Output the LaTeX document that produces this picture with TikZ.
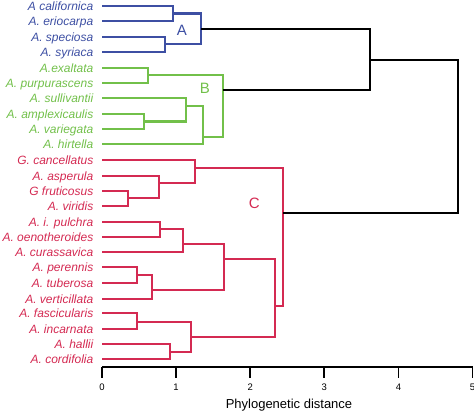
\documentclass[tikz,border=0pt]{standalone}
\usepackage{fontspec}
\setmainfont{Liberation Sans}
\usetikzlibrary{positioning}
\definecolor{cladeA}{HTML}{3D4FA3}
\definecolor{cladeB}{HTML}{72C04A}
\definecolor{cladeC}{HTML}{D42A52}

\begin{document}
\begin{tikzpicture}[x=1pt, y=-1pt,
  taxon/.style={anchor=east, inner sep=0pt, text height=8.6pt, text depth=0pt, font=\fontsize{12}{14}\selectfont\itshape},
  branch/.style={line width=2.1pt},
  cladelabel/.style={inner sep=0pt, font=\fontsize{15}{18}\selectfont},
  ticklabel/.style={inner sep=0pt, font=\fontsize{9.5}{11}\selectfont}
]
\useasboundingbox (0,0) rectangle (474,413);

% leaves
\foreach \n/\y/\t in {1/6/A californica, 2/21/A. eriocarpa, 3/36.7/A. speciosa, 4/51.7/A. syriaca} {
  \coordinate (l\n) at (102,\y);
  \node[taxon, text=cladeA, left=8.5pt of l\n] (t\n) {\t};
}
\foreach \n/\y/\t in {5/67.7/A.exaltata, 6/82.7/A. purpurascens, 7/98.3/A. sullivantii,
    8/114/A. amplexicaulis, 9/129/A. variegata, 10/144/A. hirtella} {
  \coordinate (l\n) at (102,\y);
  \node[taxon, text=cladeB, left=8.5pt of l\n] (t\n) {\t};
}
\foreach \n/\y/\t in {11/160/G. cancellatus, 12/175.7/A. asperula, 13/191/G fruticosus,
    14/205.7/A. viridis, 15/221.7/A. i. pulchra, 16/236.7/A. oenotheroides,
    17/252.3/A. curassavica, 18/267.3/A. perennis, 19/282.7/A. tuberosa,
    20/298.7/A. verticillata, 21/313.3/A. fascicularis, 22/329/A. incarnata,
    23/344.3/A. hallii, 24/359.3/A. cordifolia} {
  \coordinate (l\n) at (102,\y);
  \node[taxon, text=cladeC, left=8.5pt of l\n] (t\n) {\t};
}

% joins
\coordinate (a1) at (173.3,13.5);
\coordinate (a2) at (165,44.2);
\coordinate (aR) at (201,29);
\coordinate (b1) at (148.3,75);
\coordinate (b2) at (144,121.5);
\coordinate (b3) at (186,106);
\coordinate (b4) at (203.3,136.7);
\coordinate (bR) at (223.3,90);
\coordinate (c1) at (128.3,198.3);
\coordinate (c2) at (159.3,183.3);
\coordinate (c3) at (195,168.3);
\coordinate (c4) at (160,229.3);
\coordinate (c5) at (182.7,244.3);
\coordinate (c6) at (136.7,275);
\coordinate (c7) at (151.7,290);
\coordinate (c8) at (224.3,259.3);
\coordinate (c9) at (136.7,321.7);
\coordinate (c10) at (170,351.7);
\coordinate (c11) at (191,336.7);
\coordinate (c12) at (275,306);
\coordinate (cR) at (283.3,213.3);
\coordinate (r1) at (370,60);
\coordinate (r0) at (457.7,137);

\draw[branch, cladeA] (l1) -| (a1) |- (l2);
\draw[branch, cladeA] (l3) -| (a2) |- (l4);
\draw[branch, cladeA] (a1) -| (aR) |- (a2);

\draw[branch, cladeB] (l5) -| (b1) |- (l6);
\draw[branch, cladeB] (l8) -| (b2) |- (l9);
\draw[branch, cladeB] (l7) -| (b3) |- (b2);
\draw[branch, cladeB] (b3) -| (b4) |- (l10);
\draw[branch, cladeB] (b1) -| (bR) |- (b4);

\draw[branch, cladeC] (l13) -| (c1) |- (l14);
\draw[branch, cladeC] (l12) -| (c2) |- (c1);
\draw[branch, cladeC] (l11) -| (c3) |- (c2);
\draw[branch, cladeC] (l15) -| (c4) |- (l16);
\draw[branch, cladeC] (c4) -| (c5) |- (l17);
\draw[branch, cladeC] (l18) -| (c6) |- (l19);
\draw[branch, cladeC] (c6) -| (c7) |- (l20);
\draw[branch, cladeC] (c5) -| (c8) |- (c7);
\draw[branch, cladeC] (l21) -| (c9) |- (l22);
\draw[branch, cladeC] (l23) -| (c10) |- (l24);
\draw[branch, cladeC] (c9) -| (c11) |- (c10);
\draw[branch, cladeC] (c8) -| (c12) |- (c11);
\draw[branch, cladeC] (c3) -| (cR) |- (c12);

\draw[branch] (aR) -| (r1) |- (bR);
\draw[branch] (r1) -| (r0) |- (cR);

\node[cladelabel, text=cladeA] (labA) at (182,30.7) {A};
\node[cladelabel, text=cladeB] (labB) at (205,88.3) {B};
\node[cladelabel, text=cladeC] (labC) at (254.3,203.3) {C};

% axis
\foreach \i in {0,...,5} {
  \coordinate (ax\i) at ({102+74.1*\i},367.3);
  \coordinate (tk\i) at ({102+74.1*\i},378.3);
  \draw[line width=1.8pt] (ax\i) -- (tk\i);
  \node[ticklabel, below=16pt of ax\i] (n\i) {\i};
}
\draw[line width=1.8pt] (ax0) -- (ax5);
\node[font=\fontsize{13}{15}\selectfont] (xlab) at (289,405) {Phylogenetic distance};
\end{tikzpicture}
\end{document}
